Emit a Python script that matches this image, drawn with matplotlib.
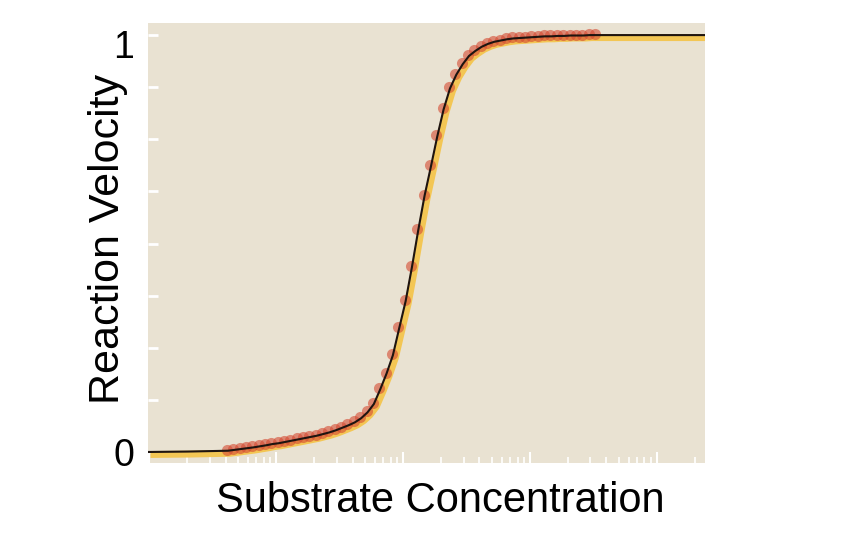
import matplotlib
matplotlib.use("Agg")
import matplotlib.pyplot as plt
import matplotlib.transforms as mtransforms
import numpy as np

# log10 of substrate concentration for each measured point
log_conc = [-1.38, -1.33, -1.28, -1.23, -1.18, -1.13, -1.08, -1.03, -0.98, -0.93,
            -0.88, -0.83, -0.78, -0.73, -0.68, -0.63, -0.58, -0.53, -0.48, -0.43,
            -0.38, -0.33, -0.28, -0.23, -0.18, -0.13, -0.08, -0.03, 0.02, 0.07,
            0.12, 0.17, 0.22, 0.27, 0.32, 0.37, 0.42, 0.47, 0.52, 0.57,
            0.62, 0.67, 0.72, 0.77, 0.82, 0.87, 0.92, 0.97, 1.02, 1.07,
            1.12, 1.17, 1.22, 1.27, 1.32, 1.37, 1.42, 1.47, 1.52]
velocity = [0.003, 0.005, 0.007, 0.009, 0.011, 0.0135, 0.016, 0.019, 0.021, 0.024,
            0.027, 0.030, 0.033, 0.036, 0.039, 0.043, 0.047, 0.052, 0.058, 0.064,
            0.071, 0.081, 0.095, 0.115, 0.150, 0.188, 0.232, 0.297, 0.361, 0.443,
            0.532, 0.615, 0.685, 0.757, 0.822, 0.872, 0.905, 0.930, 0.950, 0.962,
            0.972, 0.979, 0.984, 0.987, 0.990, 0.992, 0.993, 0.994, 0.995, 0.996,
            0.997, 0.997, 0.998, 0.998, 0.999, 0.999, 0.999, 1.0, 1.0]

# fitted curve extends past the data to both edges of the plot
fit_log_left = [-2.01, -1.7]
fit_v_left = [0.0, 0.001]
fit_log_right = [1.8, 2.38]
fit_v_right = [1.0, 1.0]

BG = "#e9e2d2"
FONT = "Liberation Sans"

fig = plt.figure(figsize=(8.48, 5.44), dpi=100)
fig.patch.set_facecolor("white")
ax = fig.add_axes([148 / 848, 1 - 462.7 / 544, (705 - 148) / 848, (462.7 - 23) / 544])
ax.set_facecolor(BG)

xs = 10.0 ** np.array(log_conc)
fit_x = 10.0 ** np.array(fit_log_left + log_conc + fit_log_right)
fit_y = np.array(fit_v_left + velocity + fit_v_right)

yellow_shift = ax.transData + mtransforms.ScaledTranslation(2.5 / 100, -2.5 / 100, fig.dpi_scale_trans)
dot_shift = ax.transData + mtransforms.ScaledTranslation(-1.0 / 100, 1.0 / 100, fig.dpi_scale_trans)

ax.plot(fit_x, fit_y, color="#f3c654", lw=5, solid_capstyle="butt",
        transform=yellow_shift, zorder=2)
ax.scatter(xs, velocity, s=64, color="#d44a32", alpha=0.6, lw=0,
           transform=dot_shift, zorder=3)
ax.plot(fit_x, fit_y, color="#1e1410", lw=1.5, zorder=4)

ax.set_xscale("log")
ax.set_xlim(10 ** -2.01, 10 ** 2.38)
ax.set_ylim(-0.0257, 1.029)

for s in ax.spines.values():
    s.set_visible(False)

ax.set_yticks([0, 1])
ax.set_yticklabels(["0", "1"], fontsize=27, family=FONT)
ax.set_yticks(np.arange(0.125, 1.0, 0.125), minor=True)
ax.tick_params(axis="y", which="both", direction="in", color="white",
               width=2, length=7, pad=10, left=True, right=False)
# the "1" sits a little below its level in the original
top_lbl = ax.get_yticklabels()[1]
top_lbl.set_transform(top_lbl.get_transform() +
                      mtransforms.ScaledTranslation(0, -9 / 100, fig.dpi_scale_trans))

ax.xaxis.set_major_formatter(matplotlib.ticker.NullFormatter())
ax.xaxis.set_minor_formatter(matplotlib.ticker.NullFormatter())
ax.tick_params(axis="x", which="major", direction="in", color="white",
               width=1.5, length=8, bottom=True, top=False)
ax.tick_params(axis="x", which="minor", direction="in", color="white",
               width=1.2, length=4, bottom=True, top=False)

ax.set_xlabel("Substrate Concentration", fontsize=30, family=FONT)
ax.xaxis.set_label_coords(0.524, -0.042)
ax.set_ylabel("Reaction Velocity", fontsize=31, family=FONT)
ax.yaxis.set_label_coords(-0.036, 0.509)

fig.savefig("out.png", dpi=100)
